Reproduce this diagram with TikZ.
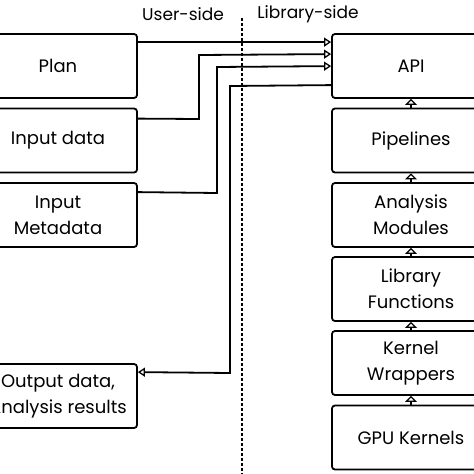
\documentclass[tikz,border=0pt]{standalone}
\usepackage{fontspec}
\setmainfont{Poppins}
\usetikzlibrary{arrows.meta}
\begin{document}
\begin{tikzpicture}[x=1pt,y=-1pt,
  box/.style={draw, line width=1.8pt, rounded corners=3pt, minimum width=158pt, minimum height=64pt, align=center, inner sep=0pt, font=\fontsize{18}{26}\selectfont},
  lbl/.style={font=\fontsize{17}{20}\selectfont},
  conn/.style={line width=1.8pt},
  bigtip/.style={-{Triangle[open,length=7pt,width=9pt,line width=1.3pt]}},
  smalltip/.style={-{Triangle[open,length=6pt,width=12pt,line width=1.3pt]}}]
\clip (0,0) rectangle (474,474);
\useasboundingbox (0,0) rectangle (474,474);
% left boxes
\node[box] (plan) at (58,66) {Plan};
\node[box] (input) at (58,140.5) {Input data};
\node[box] (meta) at (58,215) {Input\\Metadata};
\node[box] (out) at (58,396) {Output data,\\Analysis results};
% right boxes
\node[box] (api) at (411,66) {API};
\node[box] (pipe) at (411,140.5) {Pipelines};
\node[box] (anal) at (411,215) {Analysis\\Modules};
\node[box] (libf) at (411,289) {Library\\Functions};
\node[box] (kern) at (411,363) {Kernel\\Wrappers};
\node[box] (gpu) at (411,437.5) {GPU Kernels};
% labels
\node[lbl] (us) at (183,14) {User-side};
\node[lbl] (ls) at (308,14) {Library-side};
% dashed divider
\coordinate (dtop) at (242,18);
\coordinate (dbot) at (242,474);
\draw[line width=1.3pt, dash pattern=on 3pt off 2pt] (dtop) -- (dbot);
% connectors to API
\draw[conn,bigtip] ([yshift=-9pt]plan.north east) -- ([yshift=-9pt]api.north west);
\coordinate (c1) at (199,119);
\coordinate (c2) at (199,55);
\draw[conn,bigtip] ([yshift=-11pt]input.north east) -- (c1) -- (c2) -- ([yshift=-21pt]api.north west);
\coordinate (c3) at (217,193);
\coordinate (c4) at (217,67);
\draw[conn,bigtip] ([yshift=-10pt]meta.north east) -- (c3) -- (c4) -- ([yshift=-33pt]api.north west);
\coordinate (c5) at (230,86);
\coordinate (c6) at (230,373);
\draw[conn,bigtip] ([yshift=-52pt]api.north west) -- (c5) -- (c6) -- ([yshift=-9pt]out.north east);
% stacking arrows
\draw[conn,smalltip] (pipe.north) -- (api.south);
\draw[conn,smalltip] (anal.north) -- (pipe.south);
\draw[conn,smalltip] (libf.north) -- (anal.south);
\draw[conn,smalltip] (kern.north) -- (libf.south);
\draw[conn,smalltip] (gpu.north) -- (kern.south);
\end{tikzpicture}
\end{document}
